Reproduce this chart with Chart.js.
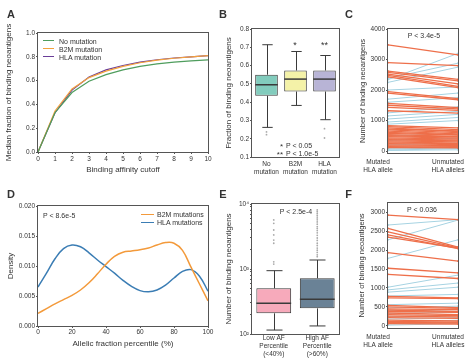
<!DOCTYPE html>
<html>
<head>
<meta charset="utf-8">
<script src="https://cdn.jsdelivr.net/npm/chart.js@4.4.1/dist/chart.umd.min.js"></script>
<style>
html, body { margin: 0; padding: 0; background: #fff; }
#fig { position: relative; width: 474px; height: 361px; overflow: hidden; font-family: "Liberation Sans", Arial, sans-serif; color: #333; }
#fig canvas { position: absolute; }
.t { position: absolute; white-space: nowrap; line-height: 1; }
.sw { position: absolute; height: 0; }
</style>
</head>
<body>
<div id="fig"></div>
<script>
// ---- Panel A: median fraction vs binding affinity cutoff
const aCutoffs = [0, 1, 2, 3, 4, 5, 6, 7, 8, 9, 10];
const aNoMutation = [0, 0.33, 0.50, 0.595, 0.65, 0.69, 0.72, 0.74, 0.755, 0.765, 0.775];
const aB2M = [0, 0.345, 0.53, 0.625, 0.68, 0.72, 0.75, 0.772, 0.788, 0.80, 0.81];
const aHLA = [0, 0.33, 0.52, 0.63, 0.69, 0.727, 0.755, 0.775, 0.79, 0.80, 0.81];
const aXTicks = [0, 1, 2, 3, 4, 5, 6, 7, 8, 9, 10];
const aYTicks = [0, 0.2, 0.4, 0.6, 0.8, 1.0];

// ---- Panel B: box plots, fraction of binding neoantigens
const bCategories = [['No', 'mutation'], ['B2M', 'mutation'], ['HLA', 'mutation']];
const bMin = [0.262, 0.382, 0.304];
const bQ1 = [0.435, 0.458, 0.458];
const bMedian = [0.495, 0.526, 0.526];
const bQ3 = [0.55, 0.573, 0.573];
const bMax = [0.714, 0.677, 0.655];
const bOutliers = [[0.237, 0.222], [], [0.255, 0.204]];
const bYTicks = [0.1, 0.2, 0.3, 0.4, 0.5, 0.6, 0.7, 0.8];

// ---- Panel C: paired lines, mutated vs unmutated HLA allele
const cCategories = [['Mutated', 'HLA allele'], ['Unmutated', 'HLA alleles']];
const cMutated = [3480, 2900, 2620, 2580, 2520, 2480, 2430, 1950, 1900, 1560, 1500, 1430, 1320,
  830, 800, 760, 720, 690, 650, 610, 580, 540, 500, 470, 430, 400, 370, 330, 300, 270, 240, 200, 170, 140, 110,
  2340, 2380, 2250, 2000, 1700, 1600, 1250, 1150, 1050, 950, 880, 500, 350, 200, 90, 60, 30, 20];
const cUnmutated = [3150, 2800, 2350, 2300, 2200, 2120, 2080, 1720, 1680, 1420, 1380, 1330, 1240,
  760, 700, 640, 660, 600, 560, 540, 520, 480, 460, 420, 390, 360, 330, 300, 260, 240, 210, 180, 150, 120, 100,
  3200, 2880, 2750, 2100, 1900, 1750, 1450, 1300, 1200, 1100, 1000, 560, 420, 260, 140, 110, 80, 40];
const cYTicks = [0, 1000, 2000, 3000, 4000];

// ---- Panel D: density of allelic fraction percentile
const dPercentile = [0, 5, 10, 15, 20, 25, 30, 35, 40, 45, 50, 55, 60, 65, 70, 75, 80, 85, 90, 95, 100];
const dB2M = [0.0021, 0.0029, 0.0037, 0.0044, 0.0051, 0.006, 0.0072, 0.0087, 0.0103, 0.0116, 0.0123,
  0.0125, 0.0127, 0.013, 0.0135, 0.0139, 0.0138, 0.0126, 0.0098, 0.007, 0.0042];
const dHLA = [0.0065, 0.0088, 0.0112, 0.0129, 0.0135, 0.0132, 0.0122, 0.011, 0.0099, 0.0088, 0.0076,
  0.0066, 0.0059, 0.0057, 0.006, 0.0068, 0.008, 0.0091, 0.0094, 0.0083, 0.0058];
const dXTicks = [0, 20, 40, 60, 80, 100];
const dYTicks = [0, 0.005, 0.01, 0.015, 0.02];

// ---- Panel E: box plots on log scale
const eCategories = [['Low AF', 'Percentile', '(<40%)'], ['High AF', 'Percentile', '(>60%)']];
const eMin = [115, 133];
const eQ1 = [208, 248];
const eMedian = [297, 342];
const eQ3 = [505, 720];
const eMax = [942, 1375];
const eOutliers = [
  [5680, 5050, 3980, 3340, 2790, 2490, 1290, 1190],
  [8100, 7600, 7100, 6600, 6100, 5700, 5300, 4900, 4500, 4200, 3900, 3600, 3300, 3000, 2750, 2500, 2300, 2100, 1950, 1800, 1650, 1550]
];
const eYTicks = [100, 200, 300, 400, 500, 600, 700, 800, 900, 1000, 2000, 3000, 4000, 5000, 6000, 7000, 8000, 9000, 10000];
const eYMajor = [100, 1000, 10000];
const eYLabels = ['10²', '10³', '10⁴'];

// ---- Panel F: paired lines, second cohort
const fMutated = [2920, 2570, 2480, 2400, 2340, 1930, 1520, 1360, 780, 740,
  540, 500, 450, 420, 380, 340, 300, 260, 220, 150, 120, 90, 60,
  2660, 2270, 1780, 1020, 950, 890, 790, 560, 480, 400, 330, 250, 180, 100, 50, 20];
const fUnmutated = [2800, 2080, 2060, 2040, 2050, 1710, 1400, 1250, 740, 720,
  480, 460, 430, 380, 360, 300, 270, 240, 200, 130, 100, 80, 50,
  2800, 2790, 2270, 1340, 1130, 1020, 830, 600, 520, 430, 360, 280, 220, 150, 90, 60];
const fYTicks = [0, 500, 1000, 1500, 2000, 2500, 3000];

// ---- setup
const AXIS = '#555';
const FONT = '"Liberation Sans", Arial, sans-serif';
Chart.defaults.font.family = FONT;
Chart.defaults.font.size = 6.5;
Chart.defaults.color = '#333';
Chart.defaults.animation = false;
Chart.defaults.plugins.legend.display = false;
Chart.defaults.plugins.tooltip.enabled = false;

const fig = document.getElementById('fig');

function makeCanvas(left, top, w, h) {
  const c = document.createElement('canvas');
  c.width = w; c.height = h;
  c.style.left = left + 'px'; c.style.top = top + 'px';
  c.style.width = w + 'px'; c.style.height = h + 'px';
  fig.appendChild(c);
  return c;
}

function addText(txt, x, y, size, align, bold) {
  const d = document.createElement('div');
  d.className = 't';
  d.textContent = txt;
  d.style.left = x + 'px';
  d.style.top = y + 'px';
  d.style.fontSize = size + 'px';
  if (bold) d.style.fontWeight = 'bold';
  const tx = align === 'center' ? '-50%' : align === 'right' ? '-100%' : '0';
  d.style.transform = 'translate(' + tx + ', -50%)';
  fig.appendChild(d);
}

function addSwatch(x, y, w, color) {
  const d = document.createElement('div');
  d.className = 'sw';
  d.style.left = x + 'px'; d.style.top = (y - 0.75) + 'px';
  d.style.width = w + 'px';
  d.style.borderTop = '1.5px solid ' + color;
  fig.appendChild(d);
}

// box round the plot area
const framePlugin = {
  id: 'frame',
  afterDatasetsDraw(chart) {
    const a = chart.chartArea, ctx = chart.ctx;
    ctx.save();
    ctx.strokeStyle = AXIS;
    ctx.lineWidth = 1;
    ctx.strokeRect(Math.round(a.left) - 0.5, Math.round(a.top) - 0.5,
      Math.round(a.right - a.left) + 1, Math.round(a.bottom - a.top) + 1);
    ctx.restore();
  }
};

// whiskers and medians for the box plots, drawn on the chart's own scales
function whiskerPlugin(mins, q1s, medians, q3s, maxs) {
  return {
    id: 'whiskers',
    afterDatasetsDraw(chart) {
      const y = chart.scales.y, ctx = chart.ctx;
      const bars = chart.getDatasetMeta(0).data;
      ctx.save();
      ctx.strokeStyle = '#3a3a3a';
      bars.forEach((bar, i) => {
        const cx = Math.round(bar.x) + 0.5;
        const half = bar.width / 2;
        const cap = half * 0.46;
        const pMin = y.getPixelForValue(mins[i]), pMax = y.getPixelForValue(maxs[i]);
        const pQ1 = y.getPixelForValue(q1s[i]), pQ3 = y.getPixelForValue(q3s[i]);
        ctx.lineWidth = 1;
        ctx.beginPath();
        ctx.moveTo(cx, pQ3); ctx.lineTo(cx, pMax);
        ctx.moveTo(cx - cap, pMax); ctx.lineTo(cx + cap, pMax);
        ctx.moveTo(cx, pQ1); ctx.lineTo(cx, pMin);
        ctx.moveTo(cx - cap, pMin); ctx.lineTo(cx + cap, pMin);
        ctx.stroke();
        const pMed = y.getPixelForValue(medians[i]);
        ctx.lineWidth = 1.5;
        ctx.beginPath();
        ctx.moveTo(bar.x - half, pMed); ctx.lineTo(bar.x + half, pMed);
        ctx.stroke();
      });
      ctx.restore();
    }
  };
}

function yAxis(o) {
  const ticks = { padding: 1, autoSkip: false, font: { size: 6.5 } };
  if (o.format) ticks.callback = o.format;
  return {
    type: o.type || 'linear',
    position: 'left',
    min: o.min, max: o.max,
    border: { display: false },
    grid: { drawOnChartArea: false, tickLength: 2, tickColor: AXIS },
    ticks: ticks,
    title: { display: true, text: o.title, font: { size: o.titleSize || 8 }, padding: { top: o.titlePad, bottom: 0 } },
    afterBuildTicks: s => { s.ticks = o.ticks.map(v => ({ value: v })); },
    afterFit: s => { s.width = o.size; s.paddingTop = 0; s.paddingBottom = 0; }
  };
}

function xAxis(o) {
  const ticks = { padding: o.padding, autoSkip: false, maxRotation: 0, minRotation: 0,
    labelOffset: o.labelOffset || 0, font: { size: 6.5, lineHeight: 1.25 } };
  if (o.format) ticks.callback = o.format;
  const ax = {
    type: o.type || 'category',
    position: 'bottom',
    border: { display: false },
    grid: { drawOnChartArea: false, tickLength: o.tickLength, tickColor: o.hideTicks ? 'rgba(0,0,0,0)' : AXIS },
    ticks: ticks,
    afterFit: s => { s.height = o.size; s.paddingLeft = 0; s.paddingRight = 0; }
  };
  if (o.min !== undefined) { ax.min = o.min; ax.max = o.max; }
  if (o.offset !== undefined) ax.offset = o.offset;
  if (o.title) ax.title = { display: true, text: o.title, font: { size: 8 }, padding: { top: 0, bottom: o.titlePad || 0 } };
  if (o.ticks) ax.afterBuildTicks = s => { s.ticks = o.ticks.map(v => ({ value: v })); };
  return ax;
}

function baseOptions(pad) {
  return {
    responsive: false,
    maintainAspectRatio: false,
    layout: { padding: { top: pad.top, right: pad.right, left: 0, bottom: 0 } },
    elements: { point: { radius: 0 } }
  };
}

// ---------------- Panel A
(function () {
  const opts = baseOptions({ top: 13, right: 7 });
  opts.scales = {
    x: xAxis({ type: 'linear', min: 0, max: 10, ticks: aXTicks, size: 28, tickLength: 2, padding: 1,
      format: v => String(v), title: 'Binding affinity cutoff', titlePad: 5 }),
    y: yAxis({ min: 0, max: 1, ticks: aYTicks, size: 38, format: v => v.toFixed(1),
      title: 'Median fraction of binding neoantigens', titlePad: 4 })
  };
  new Chart(makeCanvas(0, 20, 215, 160), {
    type: 'line',
    data: {
      datasets: [
        { label: 'No mutation', data: aCutoffs.map((c, i) => ({ x: c, y: aNoMutation[i] })), borderColor: '#4f9d5d', borderWidth: 1.2 },
        { label: 'B2M mutation', data: aCutoffs.map((c, i) => ({ x: c, y: aB2M[i] })), borderColor: '#f3a13c', borderWidth: 1.2 },
        { label: 'HLA mutation', data: aCutoffs.map((c, i) => ({ x: c, y: aHLA[i] })), borderColor: '#6a3d98', borderWidth: 1.2 }
      ]
    },
    options: opts,
    plugins: [framePlugin]
  });
  addSwatch(43, 40.7, 11, '#4f9d5d'); addText('No mutation', 59, 40.7, 7, 'left');
  addSwatch(43, 48.7, 11, '#f3a13c'); addText('B2M mutation', 59, 48.7, 7, 'left');
  addSwatch(43, 56.7, 11, '#6a3d98'); addText('HLA mutation', 59, 56.7, 7, 'left');
})();

// ---------------- box plot panels (B and E)
function boxChart(canvas, categories, mins, q1s, medians, q3s, maxs, outlierLists, colors, barPct, yAx, pad, xSize, xTick, xPad) {
  const outliers = [];
  outlierLists.forEach((list, i) => list.forEach(v => outliers.push({ x: categories[i], y: v })));
  const opts = baseOptions(pad);
  opts.scales = {
    x: xAxis({ offset: true, size: xSize, tickLength: xTick, padding: xPad, hideTicks: true }),
    y: yAx
  };
  new Chart(canvas, {
    type: 'bar',
    data: {
      labels: categories,
      datasets: [
        { data: categories.map((c, i) => [q1s[i], q3s[i]]), backgroundColor: colors,
          borderColor: '#3a3a3a', borderWidth: 1, borderSkipped: false, barPercentage: barPct, categoryPercentage: 1 },
        { type: 'line', showLine: false, data: outliers, pointRadius: 0.9, pointBackgroundColor: '#aaa',
          pointBorderWidth: 0, borderWidth: 0 }
      ]
    },
    options: opts,
    plugins: [whiskerPlugin(mins, q1s, medians, q3s, maxs), framePlugin]
  });
}

boxChart(makeCanvas(218, 20, 125, 165), bCategories, bMin, bQ1, bMedian, bQ3, bMax, bOutliers,
  ['#82ccbd', '#f4f2a8', '#b8b4d6'], 0.78,
  yAxis({ min: 0.1, max: 0.8, ticks: bYTicks, size: 34, format: v => v.toFixed(1),
    title: 'Fraction of binding neoantigens', titlePad: 6 }),
  { top: 9, right: 4 }, 28, 2, 1);
addText('*', 295, 45, 9, 'center');
addText('**', 324.5, 45, 9, 'center');
addText('*', 283, 146.5, 8, 'right'); addText('P < 0.05', 286, 145, 7, 'left');
addText('**', 283, 154.5, 8, 'right'); addText('P < 1.0e-5', 286, 153, 7, 'left');

boxChart(makeCanvas(218, 198, 125, 163), eCategories, eMin, eQ1, eMedian, eQ3, eMax, eOutliers,
  ['#f7aabb', '#6a8296'], 0.8,
  yAxis({ type: 'logarithmic', min: 100, max: 10000, ticks: eYTicks, size: 34,
    format: v => { const k = eYMajor.indexOf(v); return k >= 0 ? eYLabels[k] : ''; },
    title: 'Number of binding neoantigens', titlePad: 6 }),
  { top: 6, right: 4 }, 27, 0, 0);
addText('P < 2.5e-4', 296, 211, 7, 'center');

// ---------------- paired line panels (C and F)
function pairedChart(canvas, categories, left, right, yTicks, yMin, yMax, pad, xSize, titlePad) {
  const orange = [], blue = [];
  left.forEach((v, i) => {
    const up = right[i] > v;
    const ds = {
      data: [v, right[i]],
      borderColor: up ? '#a6d3e2' : '#ee6f4a',
      backgroundColor: up ? '#a6d3e2' : '#ee6f4a',
      borderWidth: up ? 1 : 1.3,
      pointRadius: 0.9,
      pointBorderWidth: 0
    };
    (up ? blue : orange).push(ds);
  });
  const opts = baseOptions(pad);
  opts.scales = {
    x: xAxis({ offset: false, size: xSize, tickLength: 3, padding: 2, hideTicks: true, labelOffset: -10 }),
    y: yAxis({ min: yMin, max: yMax, ticks: yTicks, size: 43, format: v => String(v),
      title: 'Number of binding neoantigens', titleSize: 7.5, titlePad: titlePad })
  };
  new Chart(canvas, {
    type: 'line',
    data: { labels: categories, datasets: orange.concat(blue) },
    options: opts,
    plugins: [framePlugin]
  });
}

pairedChart(makeCanvas(345, 20, 125, 165), cCategories, cMutated, cUnmutated, cYTicks, -65, 4000,
  { top: 9, right: 12 }, 32, 13.5);
addText('P < 3.4e-5', 424, 35, 7, 'center');

pairedChart(makeCanvas(345, 198, 125, 163), cCategories, fMutated, fUnmutated, fYTicks, -55, 3240,
  { top: 5, right: 12 }, 33, 12.5);
addText('P < 0.036', 422, 209, 7, 'center');

// ---------------- Panel D
(function () {
  const opts = baseOptions({ top: 8, right: 7 });
  opts.scales = {
    x: xAxis({ type: 'linear', min: 0, max: 100, ticks: dXTicks, size: 35, tickLength: 2, padding: 0,
      format: v => String(v), title: 'Allelic fraction percentile (%)', titlePad: 12 }),
    y: yAxis({ min: 0, max: 0.02, ticks: dYTicks, size: 38, format: v => v.toFixed(3),
      title: 'Density', titlePad: 6 })
  };
  new Chart(makeCanvas(0, 198, 215, 163), {
    type: 'line',
    data: {
      datasets: [
        { label: 'B2M mutations', data: dPercentile.map((p, i) => ({ x: p, y: dB2M[i] })), borderColor: '#f39a3b', borderWidth: 1.5, tension: 0.4 },
        { label: 'HLA mutations', data: dPercentile.map((p, i) => ({ x: p, y: dHLA[i] })), borderColor: '#3b7db4', borderWidth: 1.5, tension: 0.4 }
      ]
    },
    options: opts,
    plugins: [framePlugin]
  });
  addText('P < 8.6e-5', 43, 214.5, 7, 'left');
  addSwatch(141, 214.3, 13, '#f39a3b'); addText('B2M mutations', 157, 214.3, 7, 'left');
  addSwatch(141, 222.3, 13, '#3b7db4'); addText('HLA mutations', 157, 222.3, 7, 'left');
})();

// panel letters
addText('A', 11, 13.5, 11, 'center', true);
addText('B', 223, 13.5, 11, 'center', true);
addText('C', 349, 13.5, 11, 'center', true);
addText('D', 11, 193.5, 11, 'center', true);
addText('E', 223, 193.5, 11, 'center', true);
addText('F', 348.5, 193.5, 11, 'center', true);
</script>
</body>
</html>
